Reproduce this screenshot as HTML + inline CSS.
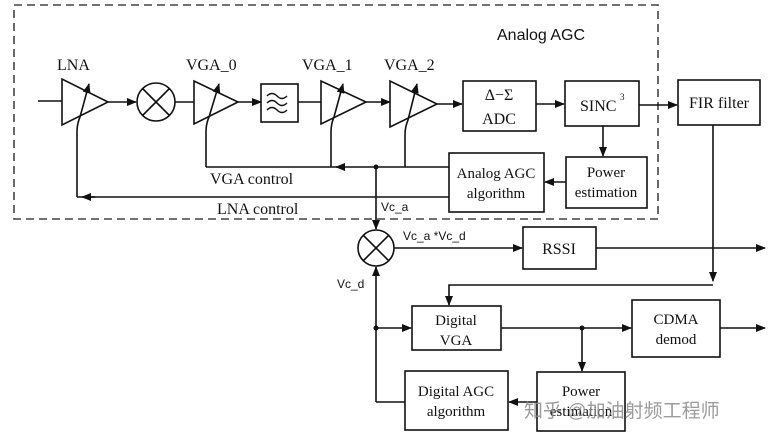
<!DOCTYPE html>
<html><head><meta charset="utf-8"><style>
body{margin:0;background:#fff}
svg{display:block}
text{font-family:"Liberation Serif",serif;fill:#111}
.s{font-family:"Liberation Sans",sans-serif}
</style></head><body>
<svg width="783" height="443" viewBox="0 0 783 443" xmlns="http://www.w3.org/2000/svg">
<defs><marker id="a" markerWidth="10" markerHeight="8" refX="9" refY="4" orient="auto" markerUnits="userSpaceOnUse"><path d="M0,0L10,4L0,8z" fill="#111"/></marker></defs>
<g stroke="#111" stroke-width="1.6" fill="none">
<rect x="14" y="5" width="644" height="214" stroke-dasharray="8,5" stroke="#444"/>
<!-- main chain -->
<line x1="38" y1="101" x2="62" y2="101"/>
<polygon points="62,79 62,125 108,102"/>
<line x1="108" y1="102" x2="136" y2="102" marker-end="url(#a)"/>
<circle cx="156" cy="102" r="19"/>
<line x1="143" y1="89" x2="169" y2="115"/><line x1="169" y1="89" x2="143" y2="115"/>
<line x1="175" y1="102" x2="194" y2="102"/>
<polygon points="194,81 194,124 238,102"/>
<line x1="238" y1="102" x2="261" y2="102" marker-end="url(#a)"/>
<rect x="261" y="84" width="37" height="38"/>
<path d="M267,96q5,-5 10,0t10,0 M267,103q5,-5 10,0t10,0 M267,110q5,-5 10,0t10,0" stroke-width="1.4"/>
<line x1="298" y1="102" x2="321" y2="102"/>
<polygon points="321,81 321,124 366,102"/>
<line x1="366" y1="102" x2="390" y2="102" marker-end="url(#a)"/>
<polygon points="390,81 390,127 437,104"/>
<line x1="437" y1="104" x2="462" y2="104" marker-end="url(#a)"/>
<rect x="463" y="81" width="73" height="50"/>
<line x1="536" y1="104" x2="564" y2="104" marker-end="url(#a)"/>
<rect x="565" y="81" width="74" height="45"/>
<line x1="639" y1="105" x2="677" y2="105" marker-end="url(#a)"/>
<rect x="678" y="80" width="82" height="45"/>
<line x1="603" y1="126" x2="603" y2="156" marker-end="url(#a)"/>
<rect x="566" y="157" width="81" height="51"/>
<line x1="566" y1="182" x2="545" y2="182" marker-end="url(#a)"/>
<rect x="449" y="153" width="95" height="59"/>
<!-- control lines -->
<path d="M77,197 L77,132 Q77,124 80,117 L89,84" marker-end="url(#a)"/>
<path d="M206,167 L206,132 Q206,124 209,117 L219,84" marker-end="url(#a)"/>
<path d="M331,167 L331,132 Q331,124 334,117 L343,84" marker-end="url(#a)"/>
<path d="M405,167 L405,135 Q405,127 408,120 L417,84" marker-end="url(#a)"/>
<line x1="449" y1="167" x2="206" y2="167"/>
<line x1="345" y1="167" x2="336" y2="167" marker-end="url(#a)"/>
<line x1="449" y1="197" x2="77" y2="197"/>
<line x1="95" y1="197" x2="82" y2="197" marker-end="url(#a)"/>
<line x1="376" y1="167" x2="376" y2="229" marker-end="url(#a)"/>
<!-- bottom -->
<circle cx="376" cy="248" r="18"/>
<line x1="363" y1="235" x2="389" y2="261"/><line x1="389" y1="235" x2="363" y2="261"/>
<line x1="394" y1="248" x2="522" y2="248" marker-end="url(#a)"/>
<rect x="523" y="227" width="73" height="42"/>
<line x1="596" y1="248" x2="765" y2="248" marker-end="url(#a)"/>
<line x1="713" y1="125" x2="713" y2="281" marker-end="url(#a)"/>
<polyline points="713,285 449,285 449,305" marker-end="url(#a)"/>
<rect x="412" y="306" width="89" height="44"/>
<line x1="376" y1="402" x2="376" y2="267" marker-end="url(#a)"/>
<line x1="376" y1="328" x2="411" y2="328" marker-end="url(#a)"/>
<line x1="501" y1="328" x2="631" y2="328" marker-end="url(#a)"/>
<rect x="632" y="300" width="88" height="57"/>
<line x1="720" y1="328" x2="765" y2="328" marker-end="url(#a)"/>
<line x1="582" y1="328" x2="582" y2="371" marker-end="url(#a)"/>
<rect x="537" y="372" width="88" height="59"/>
<line x1="537" y1="402" x2="509" y2="402" marker-end="url(#a)"/>
<rect x="405" y="371" width="103" height="59"/>
<line x1="405" y1="402" x2="376" y2="402"/>
</g>
<circle cx="376" cy="167" r="2.5" fill="#111"/><circle cx="376" cy="328" r="2.5" fill="#111"/><circle cx="582" cy="328" r="2.5" fill="#111"/>
<g font-size="16">
<text x="57" y="70">LNA</text>
<text x="186" y="70">VGA_0</text>
<text x="302" y="70">VGA_1</text>
<text x="384" y="70">VGA_2</text>
<text x="499" y="100" text-anchor="middle">Δ−Σ</text>
<text x="499" y="124" text-anchor="middle">ADC</text>
<text x="580" y="111">SINC</text><text x="620" y="100" font-size="9">3</text>
<text x="719" y="108" text-anchor="middle">FIR filter</text>
<text x="606" y="177" text-anchor="middle" font-size="15">Power</text>
<text x="606" y="197" text-anchor="middle" font-size="15">estimation</text>
<text x="496" y="178" text-anchor="middle" font-size="15">Analog AGC</text>
<text x="496" y="198" text-anchor="middle" font-size="15">algorithm</text>
<text x="210" y="184">VGA control</text>
<text x="217" y="214">LNA control</text>
<text x="559" y="254" text-anchor="middle">RSSI</text>
<text x="456" y="325" text-anchor="middle" font-size="15">Digital</text>
<text x="456" y="345" text-anchor="middle" font-size="15">VGA</text>
<text x="676" y="324" text-anchor="middle" font-size="15">CDMA</text>
<text x="676" y="344" text-anchor="middle" font-size="15">demod</text>
<text x="581" y="396" text-anchor="middle" font-size="15">Power</text>
<text x="581" y="416" text-anchor="middle" font-size="15">estimation</text>
<text x="456" y="396" text-anchor="middle" font-size="15">Digital AGC</text>
<text x="456" y="416" text-anchor="middle" font-size="15">algorithm</text>
</g>
<text class="s" x="497" y="40" font-size="16">Analog AGC</text>
<text class="s" x="381" y="211" font-size="12">Vc_a</text>
<text class="s" x="403" y="240" font-size="12">Vc_a *Vc_d</text>
<text class="s" x="337" y="288" font-size="12">Vc_d</text>
<text x="524" y="417" font-size="19" fill="#999" style="font-family:'Liberation Sans','Noto Sans CJK SC',sans-serif;fill:#8a8a8a;opacity:.85">知乎 @加油射频工程师</text>
</svg>
</body></html>
